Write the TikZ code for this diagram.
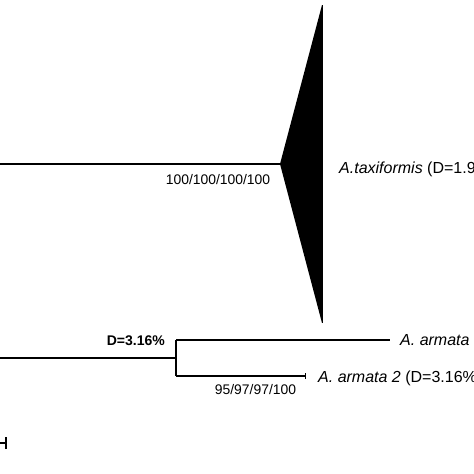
\documentclass[tikz,border=0pt]{standalone}
\usepackage{fontspec}
\setmainfont{Liberation Sans}
\begin{document}
\begin{tikzpicture}[x=1pt,y=-1pt,
  branch/.style={line width=1.4pt,black},
  support/.style={font=\fontsize{13.9}{16}\selectfont,inner sep=0pt},
  taxon/.style={font=\fontsize{16}{19}\selectfont,inner sep=0pt,anchor=base west}]
\useasboundingbox (0,0) rectangle (474,474);
\clip (0,0) rectangle (474,474);
% coordinates
\coordinate (r1) at (0,164);
\coordinate (apex) at (280,164);
\coordinate (ttop) at (322,5);
\coordinate (tbot) at (322,323);
\coordinate (r2) at (0,358);
\coordinate (n2) at (176,358);
\coordinate (n2u) at (176,340);
\coordinate (n2d) at (176,376);
\coordinate (l1) at (390,340);
\coordinate (l2) at (305,376);
\coordinate (s0) at (0,443);
\coordinate (s1) at (6,443);
% collapsed clade
\draw[branch] (r1) -- (apex);
\fill[black] (apex) -- (ttop) -- (tbot) -- cycle;
\draw[line width=0.8pt] (ttop) -- (tbot);
% armata clade
\draw[branch] (r2) -- (n2);
\draw[branch] (n2u) -- (n2d);
\draw[branch] (n2u) -- (l1);
\draw[branch] (n2d) -- (l2);
\draw[line width=0.8pt] ([yshift=-3]l2) -- ([yshift=3]l2);
% scale bar
\draw[line width=1.2pt] (s0) -- (s1);
\draw[line width=1.2pt] ([yshift=-6]s1) -- ([yshift=6]s1);
% labels
\node[support] (b1) at (218,180) {100/100/100/100};
\node[support] (b2) at (255.5,390) {95/97/97/100};
\node[support,font=\fontsize{14}{16}\selectfont\bfseries,anchor=east] (d1) at (165,341) {D=3.16\%};
\node[taxon] (t1) at (339,173) {\textit{A.taxiformis} (D=1.9};
\node[taxon] (t2) at (400,345) {\textit{A. armata}};
\node[taxon] (t3) at (318,382) {\textit{A. armata 2} (D=3.16\%};
\end{tikzpicture}
\end{document}
